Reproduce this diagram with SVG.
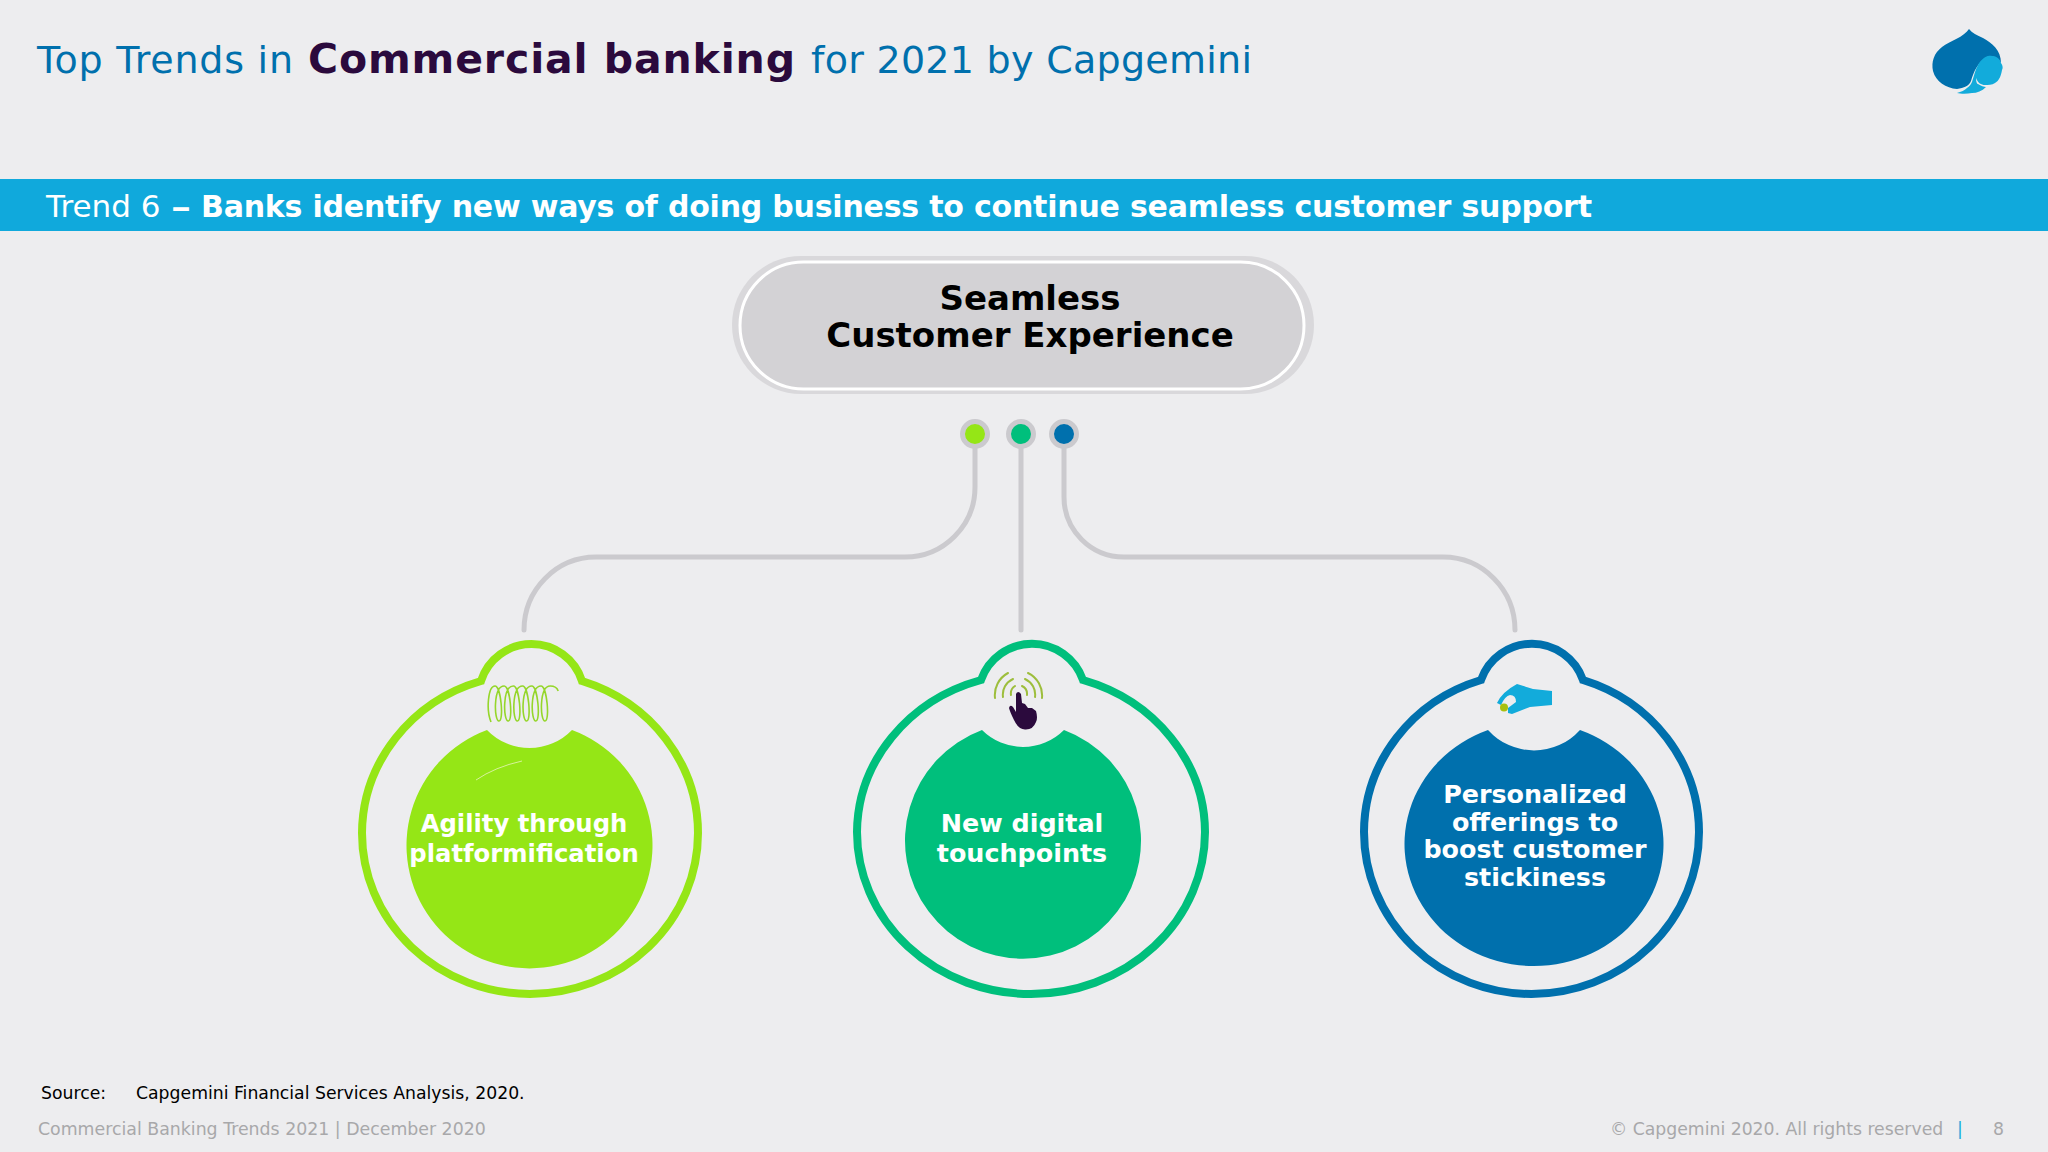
<svg xmlns="http://www.w3.org/2000/svg" width="2048" height="1152" viewBox="0 0 2048 1152">
<style>
text{font-family:"DejaVu Sans","Liberation Sans",sans-serif}
.b{font-weight:700}
.ctr{text-anchor:middle;font-weight:700;font-size:25.4px;fill:#fff}
.pill{text-anchor:middle;font-weight:700;font-size:34px;fill:#000}
.conn{fill:none;stroke:#CBCACE;stroke-width:5;stroke-linecap:round}
.ring{fill:none;stroke-width:8}
.dot{stroke:#CBCACE;stroke-width:5}
.foot{font-size:17.25px;fill:#A8A8AA}
.src{font-size:17.25px;fill:#000}
.arc{fill:none;stroke:#9DBE3C;stroke-width:2;stroke-linecap:round}
</style>
<rect width="2048" height="1152" fill="#EDEDEF"/>
<g id="title" font-size="38" fill="#0070AD">
<text x="37" y="73" textLength="256">Top Trends in</text>
<text x="308" y="73" class="b" fill="#2B0A3D" font-size="41" textLength="487">Commercial banking</text>
<text x="811" y="73" textLength="441">for 2021 by Capgemini</text>
</g>
<g id="logo">
<path fill="#0070AD" d="M1969 29C1964 37 1950 41 1942 47C1934 53 1931 62 1933 71C1936 82 1946 88 1957 89C1964 88 1969 86 1971 81C1974 71 1978 62 1987 57C1992 55 1998 58 2001 63C2001 50 1992 43 1983 38C1977 35 1972 33 1969 29Z"/>
<path fill="#12ABDB" d="M1988 56C1996 55 2000 59 2001 63C2003 66 2003 68 2002 70C2001 76 1999 81 1995 83C1992 85 1988 85 1985 85C1981 85 1978 83 1976 78C1976 82 1977 84 1978 84C1981 86 1984 87 1986 87C1982 91 1977 93 1972 93C1967 94 1961 94 1957 93C1961 92 1965 90 1967 88C1970 86 1971 84 1972 82C1974 76 1975 70 1978 65C1980 61 1984 57 1988 56Z"/>
</g>
<g id="band">
<rect x="0" y="179" width="2048" height="52" fill="#10A9DC"/>
<text x="46" y="217" font-size="31" fill="#fff">Trend 6</text>
<text x="171" y="217" font-size="30" class="b" fill="#fff" textLength="20" lengthAdjust="spacingAndGlyphs">–</text>
<text x="201" y="217" font-size="30" class="b" fill="#fff" textLength="1391">Banks identify new ways of doing business to continue seamless customer support</text>
</g>
<g id="connectors">
<path class="conn" d="M975 434V487A70 70 0 0 1 905 557H596A72 73 0 0 0 524 630"/>
<path class="conn" d="M1021 434V630"/>
<path class="conn" d="M1064 434V497A60 60 0 0 0 1124 557H1443A72 73 0 0 1 1515 630"/>
</g>
<g id="node-seamless">
<rect x="732" y="256" width="582" height="138" rx="69" fill="#D9D8DB"/>
<rect x="740" y="262" width="564" height="127" rx="63.5" fill="#D3D2D5" stroke="#fff" stroke-width="3"/>
<text class="pill" x="1030" y="310">Seamless</text>
<text class="pill" x="1030" y="347">Customer Experience</text>
</g>
<g id="dots">
<circle class="dot" cx="975" cy="434" r="12.5" fill="#95E616"/>
<circle class="dot" cx="1021" cy="434" r="12.5" fill="#00BF7C"/>
<circle class="dot" cx="1064" cy="434" r="12.5" fill="#0070AD"/>
</g>
<g id="node-agility">
<path class="ring" stroke="#95E616" d="M362 833A168 160 0 0 1 481 681A53 53 0 0 1 582 681A168 160 0 0 1 698 833A168 161 0 0 1 362 833Z"/>
<path fill="#95E616" d="M487 730A123 123 0 1 0 572 730A59 59 0 0 1 487 730Z"/>
<path fill="none" stroke="#D6F29A" stroke-width="1" d="M476 780Q495 767 522 761"/>
<path fill="none" stroke="#95D62A" stroke-width="1.6" d="M491 722c-5 -12 -3 -36 4 -36c6 0 9 35 4 35c-5 0 -6 -35 5.2 -35c6 0 9 35 4 35c-5 0 -6 -35 5.2 -35c6 0 9 35 4 35c-5 0 -6 -35 5.2 -35c6 0 9 35 4 35c-5 0 -6 -35 5.2 -35c6 0 9 35 4 35c-5 0 -6 -35 5.2 -35c6 0 9 35 4 35c-5 0 -6 -35 5.2 -35c4 0 7 2 8 5"/>
<text class="ctr" x="524" y="832" style="font-size:24.300px">Agility through</text>
<text class="ctr" x="524" y="862" style="font-size:24.300px">platformification</text>
</g>
<g id="node-digital">
<path class="ring" stroke="#00BF7C" d="M857 832A174 160 0 0 1 981 680A54 54 0 0 1 1083 680A174 160 0 0 1 1205 832A174 162 0 0 1 857 832Z"/>
<path fill="#00BF7C" d="M982 730A118 118 0 1 0 1064 730A58 58 0 0 1 982 730Z"/>
<path class="arc" d="M995 698A25 25 0 0 1 1008 673M1003 697A17 17 0 0 1 1013 679M1011 695A9 9 0 0 1 1015 686M1028 673A25 25 0 0 1 1042 698M1025 679A17 17 0 0 1 1035 697M1022 686A9 9 0 0 1 1027 695"/>
<path fill="#2B0A3D" d="M1016 694Q1018 690 1021 694L1022 703L1025 704L1028 708L1032 708L1036 711Q1038 718 1036 722Q1033 730 1025 729.5Q1018 729 1014 720Q1010 712 1009 708Q1010 704 1013 707L1016 712Z"/>
<text class="ctr" x="1022" y="832">New digital</text>
<text class="ctr" x="1022" y="862">touchpoints</text>
</g>
<g id="node-personalized">
<path class="ring" stroke="#0070AD" d="M1364 832A167.500 160 0 0 1 1481 680A54 54 0 0 1 1583 680A167.500 160 0 0 1 1699 832A167.500 162 0 0 1 1364 832Z"/>
<path fill="#0070AD" d="M1488 730A129.500 122 0 1 0 1580 730A62 62 0 0 1 1488 730Z"/>
<path fill="#12ABDB" d="M1497 703Q1502 692 1517 684L1533 689L1552 691V705L1530 707L1512 714L1508 713L1508 708L1516 702Q1516 695 1510 695Q1505 696 1501 705Z"/>
<circle cx="1504" cy="707.500" r="4" fill="#A9C010"/>
<text class="ctr" x="1535" y="803">Personalized</text>
<text class="ctr" x="1535" y="831">offerings to</text>
<text class="ctr" x="1535" y="858">boost customer</text>
<text class="ctr" x="1535" y="886">stickiness</text>
</g>
<g id="footer">
<text class="src" x="41" y="1099">Source:</text>
<text class="src" x="136" y="1099">Capgemini Financial Services Analysis, 2020.</text>
<text class="foot" x="38" y="1135" style="font-size:17.350px">Commercial Banking Trends 2021 | December 2020</text>
<text class="foot" x="1610" y="1135">© Capgemini 2020. All rights reserved</text>
<text class="foot" x="1957" y="1135" style="fill:#12ABDB">|</text>
<text class="foot" x="1993" y="1135">8</text>
</g>
</svg>
